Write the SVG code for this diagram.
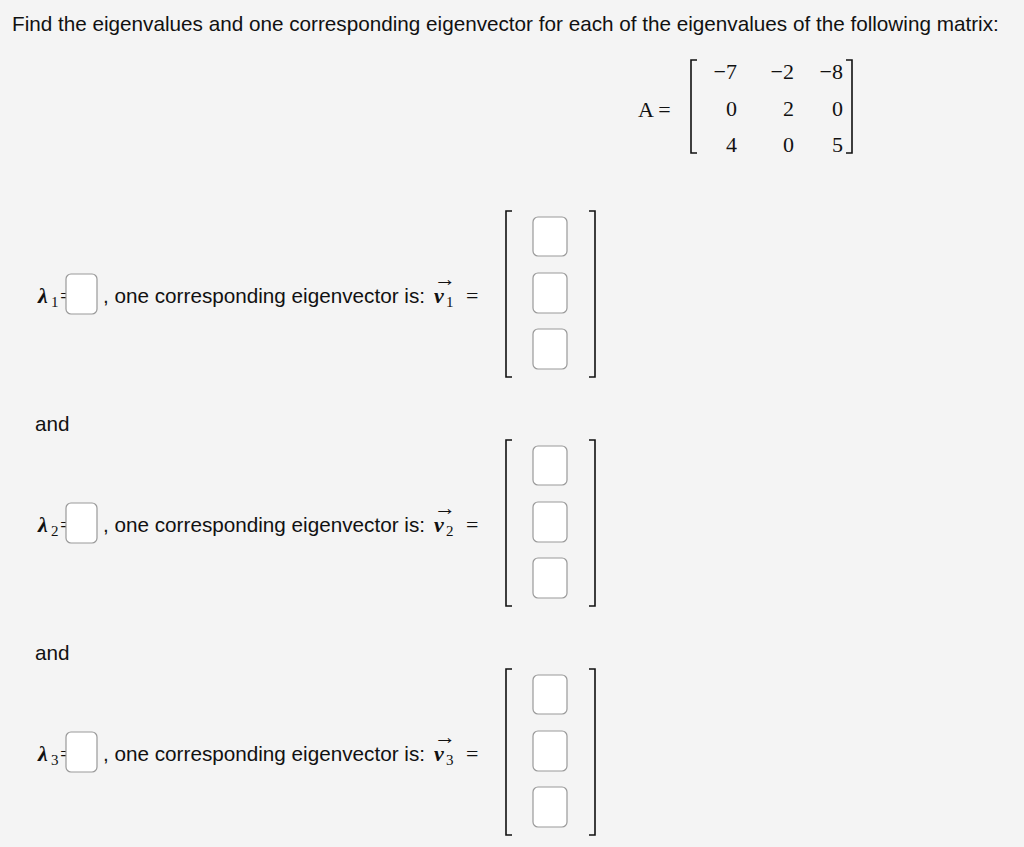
<svg xmlns="http://www.w3.org/2000/svg" width="1024" height="847" viewBox="0 0 1024 847">
<style>
.s{font-family:"Liberation Sans",Arial,sans-serif;font-size:20.7px;fill:#111}
.m{font-family:"Liberation Serif","Times New Roman",serif;font-size:22px;fill:#111}
.sub{font-family:"Liberation Serif","Times New Roman",serif;font-size:15px;fill:#111}
.b{fill:#fff;stroke:#999;stroke-width:1.2}
.br{fill:none;stroke:#111;stroke-width:1.6}
</style>
<rect width="1024" height="847" fill="#f4f4f4"/>
<text class="s" x="12" y="31">Find the eigenvalues and one corresponding eigenvector for each of the eigenvalues of the following matrix:</text>
<g id="matrix">
<text class="m" x="638" y="117">A =</text>
<path class="br" d="M697,60 H691 V153 H697 M846,60 H852 V153 H846"/>
<g class="m" text-anchor="end">
<text x="737" y="79">−7</text><text x="794" y="79">−2</text><text x="843" y="79">−8</text>
<text x="737" y="116">0</text><text x="794" y="116">2</text><text x="843" y="116">0</text>
<text x="737" y="152">4</text><text x="794" y="152">0</text><text x="843" y="152">5</text>
</g>
</g>
<g id="row1">
<text class="m" x="38" y="303" font-style="italic" font-weight="bold">λ</text><text class="sub" x="51" y="307">1</text>
<text class="m" x="60" y="303" font-size="18" textLength="5">=</text>
<rect class="b" x="66" y="274" width="31" height="40" rx="5"/>
<text class="s" x="103" y="303">, one corresponding eigenvector is:</text>
<text class="m" x="434" y="303" font-style="italic" font-weight="bold">v</text><text class="sub" x="446" y="307">1</text>
<text class="m" x="434" y="286" font-size="15" font-weight="bold">→</text>
<text class="m" x="466" y="303">=</text>
<path class="br" d="M512,211 H506 V377 H512 M589,211 H595 V377 H589"/>
<rect class="b" x="533" y="217" width="34" height="39" rx="5"/>
<rect class="b" x="533" y="273" width="34" height="40" rx="5"/>
<rect class="b" x="533" y="329" width="34" height="40" rx="5"/>
</g>
<text class="s" x="35" y="431">and</text>
<g id="row2" transform="translate(0,229)">
<text class="m" x="38" y="303" font-style="italic" font-weight="bold">λ</text><text class="sub" x="51" y="307">2</text>
<text class="m" x="60" y="303" font-size="18" textLength="5">=</text>
<rect class="b" x="66" y="274" width="31" height="40" rx="5"/>
<text class="s" x="103" y="303">, one corresponding eigenvector is:</text>
<text class="m" x="434" y="303" font-style="italic" font-weight="bold">v</text><text class="sub" x="446" y="307">2</text>
<text class="m" x="434" y="286" font-size="15" font-weight="bold">→</text>
<text class="m" x="466" y="303">=</text>
<path class="br" d="M512,211 H506 V377 H512 M589,211 H595 V377 H589"/>
<rect class="b" x="533" y="217" width="34" height="39" rx="5"/>
<rect class="b" x="533" y="273" width="34" height="40" rx="5"/>
<rect class="b" x="533" y="329" width="34" height="40" rx="5"/>
</g>
<text class="s" x="35" y="660">and</text>
<g id="row3" transform="translate(0,458)">
<text class="m" x="38" y="303" font-style="italic" font-weight="bold">λ</text><text class="sub" x="51" y="307">3</text>
<text class="m" x="60" y="303" font-size="18" textLength="5">=</text>
<rect class="b" x="66" y="274" width="31" height="40" rx="5"/>
<text class="s" x="103" y="303">, one corresponding eigenvector is:</text>
<text class="m" x="434" y="303" font-style="italic" font-weight="bold">v</text><text class="sub" x="446" y="307">3</text>
<text class="m" x="434" y="286" font-size="15" font-weight="bold">→</text>
<text class="m" x="466" y="303">=</text>
<path class="br" d="M512,211 H506 V377 H512 M589,211 H595 V377 H589"/>
<rect class="b" x="533" y="217" width="34" height="39" rx="5"/>
<rect class="b" x="533" y="273" width="34" height="40" rx="5"/>
<rect class="b" x="533" y="329" width="34" height="40" rx="5"/>
</g>
</svg>
